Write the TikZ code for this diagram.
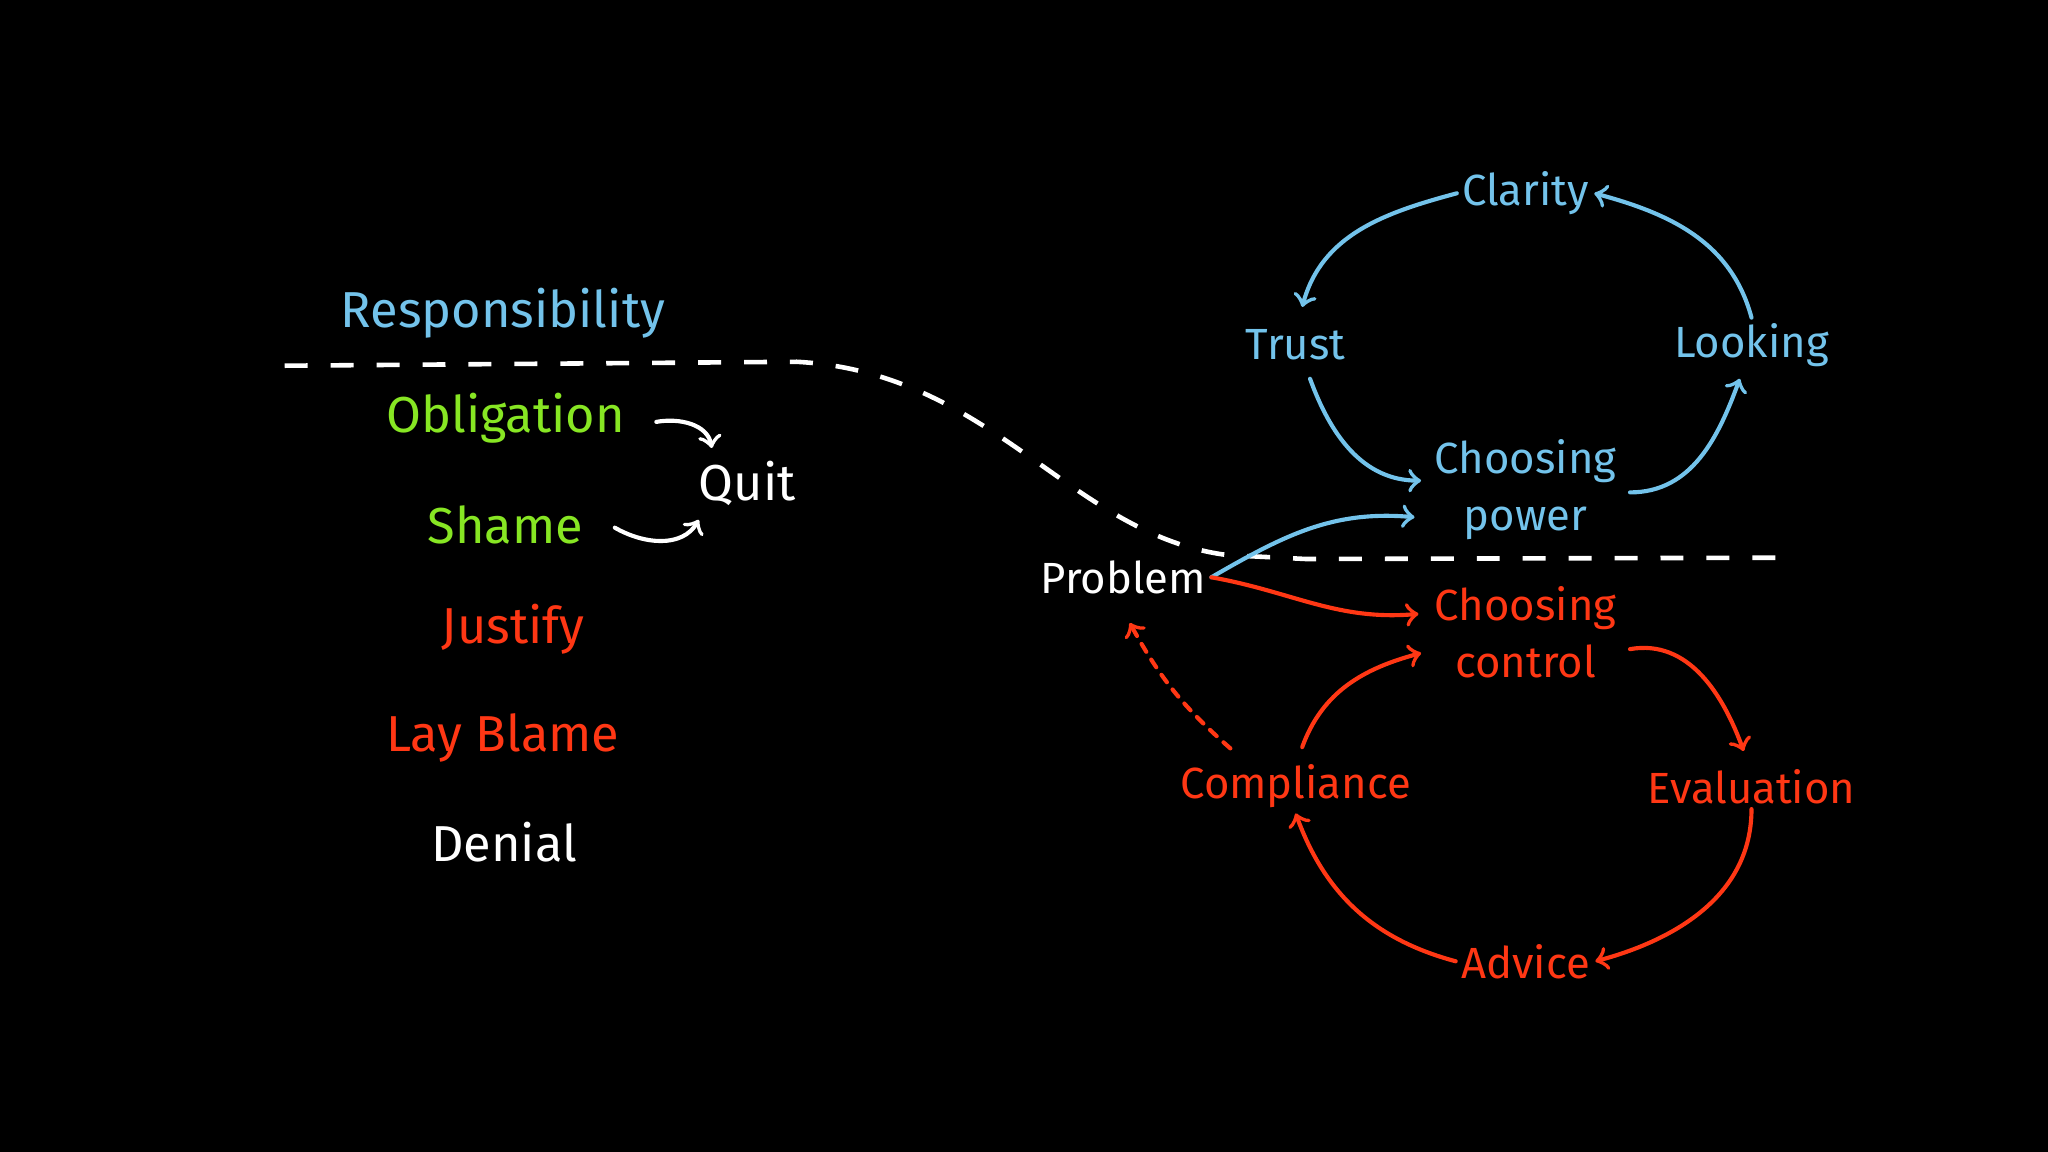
\documentclass[tikz,border=0pt]{standalone}
\usepackage{fontspec}
\setmainfont{Fira Sans}
\begin{document}
\begin{tikzpicture}[x=0.01cm,y=-0.01cm,
  lbl/.style={font=\fontsize{9.5}{11}\selectfont,inner sep=1pt},
  big/.style={font=\fontsize{11}{13}\selectfont,inner sep=1pt},
  arr/.style={->,line width=0.9pt,line cap=round},
  divline/.style={white,line width=1pt,dash pattern=on 5pt off 5pt}]
\definecolor{cb}{RGB}{115,195,235}
\definecolor{cg}{RGB}{135,230,35}
\definecolor{cr}{RGB}{255,55,20}
\fill[black] (0,0) rectangle (1568,882);
\useasboundingbox (0,0) rectangle (1568,882);
% left list
\node[big,text=cb] (resp) at (385,240) {Responsibility};
\node[big,text=cg] (obl) at (387,320) {Obligation};
\node[big,text=white] (quit) at (572,370) {Quit};
\node[big,text=cg] (shame) at (387,402) {Shame};
\node[big,text=cr] (just) at (393,482) {Justify};
\node[big,text=cr] (lay) at (385,565) {Lay Blame};
\node[big,text=white] (den) at (386,645) {Denial};
\coordinate (d1) at (218,280);
\coordinate (d2) at (610,277);
\coordinate (d3) at (940,425);
\coordinate (d4) at (1362,427);
\draw[divline] (d1) -- (d2) .. controls (760,285) and (820,410) .. (d3) -- (1000,428) -- (d4);
\draw[arr,white] (obl.east)++(20,3) to[out=10,in=100] (545,343);
\draw[arr,white] (shame.east)++(20,2) to[out=-30,in=-120] (535,398);
% right
\node[lbl,text=cb] (clar) at (1168,148) {Clarity};
\node[lbl,text=cb] (trust) at (992,264) {Trust};
\node[lbl,text=cb] (look) at (1341,264) {Looking};
\node[lbl,text=cb,align=center] (cp) at (1168,375) {Choosing\\[1.5pt]power};
\node[lbl,text=white] (prob) at (860,442) {Problem};
\node[lbl,text=cr,align=center] (cc) at (1168,484) {Choosing\\[1.5pt]control};
\node[lbl,text=cr] (comp) at (992,602) {Compliance};
\node[lbl,text=cr] (eval) at (1341,602) {Evaluation};
\node[lbl,text=cr] (adv) at (1168,736) {Advice};
\draw[arr,cb] (clar.west) to[out=195,in=75] (997,235);
\draw[arr,cb] (look.north) to[out=105,in=-15] (clar.east);
\draw[arr,cb] (1003,290) to[out=-70,in=180] (1088,368);
\draw[arr,cb] (1248,377) to[out=0,in=-110] (1332,290);
\draw[arr,cb] (prob.east) to[out=30,in=175] (1083,396);
\draw[arr,cr] (prob.east) to[out=-10,in=185] (1086,470);
\draw[arr,cr] (1248,497) to[out=10,in=110] (1335,575);
\draw[arr,cr] (eval.south) to[out=-90,in=15] (adv.east);
\draw[arr,cr] (adv.west) to[out=165,in=-70] (comp.south);
\draw[arr,cr] (997,572) to[out=70,in=195] (1088,500);
\coordinate (cpt) at (942,573);
\draw[arr,cr,dash pattern=on 2pt off 2pt] (cpt) to[bend left=10] (865,477);
\end{tikzpicture}
\end{document}
